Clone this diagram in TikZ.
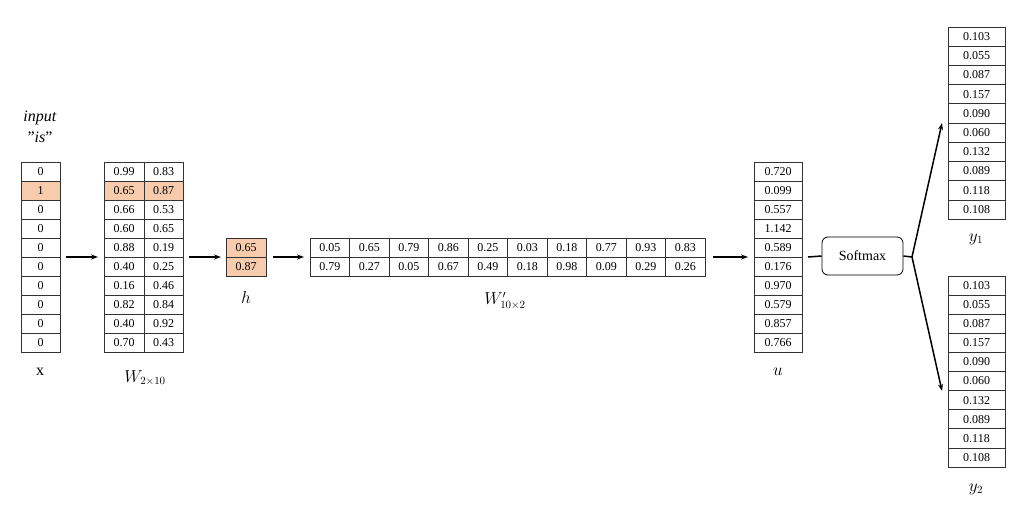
\documentclass[tikz,border=0pt]{standalone}
\usepackage{fontspec}
\setmainfont{Liberation Serif}
\usetikzlibrary{arrows.meta}
\definecolor{peach}{RGB}{248,203,173}
\begin{document}
\begin{tikzpicture}[x=1pt,y=-1pt,
  cell/.style={draw=black!80,line width=0.6pt,inner sep=0pt,font=\fontsize{12}{14}\selectfont},
  lbl/.style={font=\fontsize{16}{18}\selectfont},
  arr/.style={-{Stealth[length=7pt,width=5pt]},line width=1.5pt}]
\useasboundingbox (0,0) rectangle (1023,532);
% highlighted rows
\fill[peach] (21,181) rectangle (60,200);
\fill[peach] (104,181) rectangle (183.5,200);
% x
\foreach \v [count=\i from 0] in {0,1,0,0,0,0,0,0,0,0}{
  \node[cell,minimum width=39pt,minimum height=19pt] (x\i) at (40.5,{171.5+19*\i}) {\v};}
% W
\foreach \a/\b [count=\i from 0] in {0.99/0.83,0.65/0.87,0.66/0.53,0.60/0.65,0.88/0.19,0.40/0.25,0.16/0.46,0.82/0.84,0.40/0.92,0.70/0.43}{
  \node[cell,minimum width=40pt,minimum height=19pt] (wa\i) at (124,{171.5+19*\i}) {\a};
  \node[cell,minimum width=39pt,minimum height=19pt] (wb\i) at (163.5,{171.5+19*\i}) {\b};}
% h
\node[cell,fill=peach,minimum width=40pt,minimum height=19pt] (h0) at (246,247.5) {0.65};
\node[cell,fill=peach,minimum width=40pt,minimum height=19pt] (h1) at (246,266.5) {0.87};
% W'
\foreach \a/\b [count=\i from 0] in {0.05/0.79,0.65/0.27,0.79/0.05,0.86/0.67,0.25/0.49,0.03/0.18,0.18/0.98,0.77/0.09,0.93/0.29,0.83/0.26}{
  \node[cell,minimum width=39.5pt,minimum height=19pt] (pa\i) at ({329.75+39.5*\i},247.5) {\a};
  \node[cell,minimum width=39.5pt,minimum height=19pt] (pb\i) at ({329.75+39.5*\i},266.5) {\b};}
% u
\foreach \v [count=\i from 0] in {0.720,0.099,0.557,1.142,0.589,0.176,0.970,0.579,0.857,0.766}{
  \node[cell,minimum width=48pt,minimum height=19pt] (u\i) at (778,{171.5+19*\i}) {\v};}
% y1, y2
\foreach \v [count=\i from 0] in {0.103,0.055,0.087,0.157,0.090,0.060,0.132,0.089,0.118,0.108}{
  \node[cell,minimum width=57pt,minimum height=19.2pt] (ya\i) at (976.5,{36.6+19.2*\i}) {\v};
  \node[cell,minimum width=57pt,minimum height=19.1pt] (yb\i) at (976.5,{285.5+19.1*\i}) {\v};}
% softmax
\node[draw,rounded corners=6pt,line width=0.8pt,minimum width=81pt,minimum height=38pt,inner sep=0pt,font=\fontsize{14}{16}\selectfont] (sm) at (862.5,256) {Softmax};
% labels
\node[lbl] (tin) at (40,118) {\textit{input}};
\node[lbl] (tis) at (40,137) {"\textit{is}"};
\node[lbl] (tx) at (40,372) {x};
\node[lbl] (tw) at (145,378) {$W_{2\times 10}$};
\node[lbl] (th) at (246,297) {$h$};
\node[lbl] (twp) at (505,301) {$W'_{10\times 2}$};
\node[lbl] (tu) at (778,372) {$u$};
\node[lbl] (ty1) at (976,239) {$y_1$};
\node[lbl] (ty2) at (976,489) {$y_2$};
% arrows
\coordinate (a1) at (66,257); \coordinate (a2) at (98,257);
\draw[arr] (a1) -- (a2);
\coordinate (b1) at (189,257); \coordinate (b2) at (221,257);
\draw[arr] (b1) -- (b2);
\coordinate (c1) at (273,257); \coordinate (c2) at (304,257);
\draw[arr] (c1) -- (c2);
\coordinate (d1) at (713,257); \coordinate (d2) at (748,257);
\draw[arr] (d1) -- (d2);
\coordinate (e1) at (808,257);
\draw[line width=1.5pt] (e1) -- (sm.west);
\coordinate (f1) at (912,257);
\coordinate (g1) at (942,123); \coordinate (g2) at (942,391);
\draw[line width=1.5pt] (sm.east) -- (f1);
\draw[arr] (f1) -- (g1);
\draw[arr] (f1) -- (g2);
\end{tikzpicture}
\end{document}
